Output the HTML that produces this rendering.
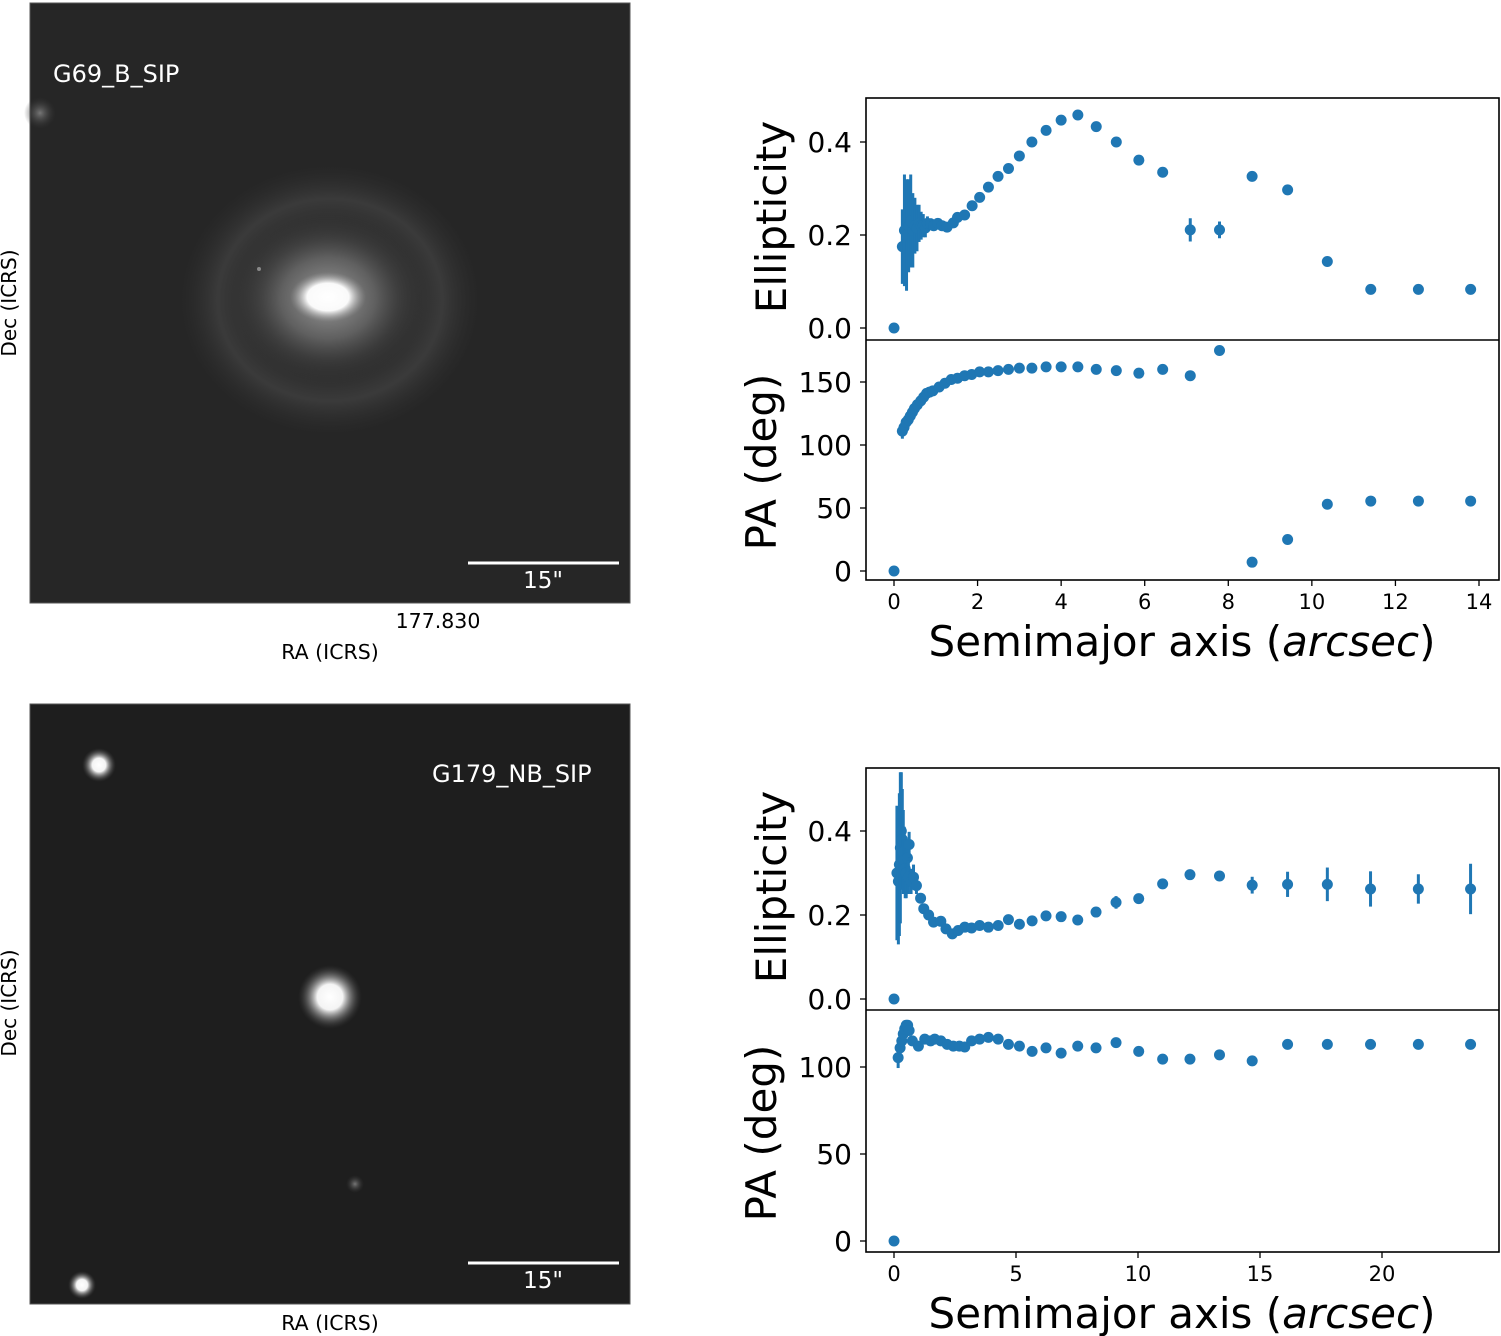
<!DOCTYPE html>
<html><head><meta charset="utf-8"><style>
html,body{margin:0;padding:0;background:#fff}
svg{display:block}
text{font-family:"DejaVu Sans","Liberation Sans",sans-serif}
</style></head><body>
<svg id="fig" width="1501" height="1336" viewBox="0 0 1501 1336" xmlns="http://www.w3.org/2000/svg">
<defs>
<radialGradient id="core1"><stop offset="0" stop-color="#fff"/><stop offset="0.55" stop-color="#fafafa"/><stop offset="1" stop-color="#999" stop-opacity="0"/></radialGradient>
<radialGradient id="halo1"><stop offset="0" stop-color="#a0a0a0"/><stop offset="0.45" stop-color="#6a6a6a" stop-opacity="0.85"/><stop offset="1" stop-color="#333" stop-opacity="0"/></radialGradient>
<radialGradient id="ring1"><stop offset="0.45" stop-color="#444" stop-opacity="0"/><stop offset="0.75" stop-color="#484848" stop-opacity="0.6"/><stop offset="1" stop-color="#333" stop-opacity="0"/></radialGradient>
<radialGradient id="star"><stop offset="0" stop-color="#fff"/><stop offset="0.4" stop-color="#f4f4f4"/><stop offset="1" stop-color="#444" stop-opacity="0"/></radialGradient>
<radialGradient id="faint"><stop offset="0" stop-color="#777"/><stop offset="1" stop-color="#333" stop-opacity="0"/></radialGradient>
</defs>

<g>
<rect x="30" y="3" width="600" height="600" fill="#262626"/>
<ellipse cx="330" cy="300" rx="150" ry="135" fill="url(#ring1)"/>
<ellipse cx="328" cy="298" rx="105" ry="90" fill="url(#halo1)"/>
<ellipse cx="328" cy="297" rx="38" ry="25" fill="url(#core1)"/>
<circle cx="40" cy="113" r="16" fill="url(#faint)"/>
<circle cx="259" cy="269" r="2" fill="#888"/>
<rect x="30" y="3" width="600" height="600" fill="none" stroke="#555" stroke-width="1"/>
<text x="53" y="82" fill="#fff" font-size="24">G69_B_SIP</text>
<line x1="468" y1="563" x2="619" y2="563" stroke="#fff" stroke-width="3"/>
<text x="543" y="588" fill="#fff" font-size="23" text-anchor="middle">15"</text>
<text x="438" y="628" font-size="20.5" text-anchor="middle">177.830</text>
<text x="330" y="659" font-size="20.5" text-anchor="middle">RA (ICRS)</text>
<text transform="translate(16,303) rotate(-90)" font-size="20" text-anchor="middle">Dec (ICRS)</text>
</g>

<g>
<rect x="30" y="704" width="600" height="600" fill="#1e1e1e"/>
<circle cx="330" cy="997" r="32" fill="url(#star)"/>
<circle cx="99" cy="765" r="17" fill="url(#star)"/>
<circle cx="82" cy="1285" r="14" fill="url(#star)"/>
<circle cx="355" cy="1184" r="9" fill="url(#faint)"/>
<rect x="30" y="704" width="600" height="600" fill="none" stroke="#555" stroke-width="1"/>
<text x="432" y="782" fill="#fff" font-size="24">G179_NB_SIP</text>
<line x1="468" y1="1263" x2="619" y2="1263" stroke="#fff" stroke-width="3"/>
<text x="543" y="1288" fill="#fff" font-size="23" text-anchor="middle">15"</text>
<text x="330" y="1330" font-size="20.5" text-anchor="middle">RA (ICRS)</text>
<text transform="translate(16,1003) rotate(-90)" font-size="20" text-anchor="middle">Dec (ICRS)</text>
</g>

<g id="plots"></g>
</svg>
<script>
// ---- top galaxy (G69) ----
const topEllX = [0,0.2,0.25,0.3,0.35,0.4,0.45,0.5,0.55,0.6,0.65,0.7,0.75,0.8,0.88,0.95,1.05,1.15,1.27,1.42,1.52,1.69,1.87,2.05,2.26,2.49,2.74,3.0,3.3,3.64,4.0,4.4,4.84,5.32,5.86,6.43,7.09,7.79,8.57,9.42,10.37,11.41,12.55,13.8];
const topEllY = [0,0.175,0.21,0.2,0.22,0.23,0.21,0.22,0.215,0.225,0.22,0.22,0.215,0.225,0.224,0.22,0.225,0.22,0.217,0.226,0.238,0.243,0.263,0.281,0.303,0.326,0.343,0.37,0.4,0.425,0.447,0.458,0.433,0.4,0.361,0.335,0.211,0.211,0.326,0.297,0.143,0.083,0.083,0.083];
const topEllErr = [0,0.08,0.12,0.12,0.1,0.1,0.08,0.06,0.05,0.04,0.03,0.025,0.02,0.015,0.012,0.01,0.008,0.006,0.005,0.005,0.004,0.004,0.004,0.004,0.005,0.005,0.007,0.01,0.01,0.01,0.005,0.004,0.004,0.004,0.004,0.004,0.025,0.018,0.004,0.01,0.004,0.003,0.003,0.003];
const topPaX = [0,0.2,0.24,0.29,0.34,0.39,0.44,0.49,0.56,0.64,0.71,0.78,0.85,0.93,1.08,1.22,1.37,1.52,1.69,1.86,2.05,2.26,2.49,2.74,3.0,3.3,3.64,4.0,4.4,4.84,5.32,5.86,6.43,7.09,7.79,8.57,9.42,10.37,11.41,12.55,13.8];
const topPaY = [0,111,114,118,120,123,126,129,132,135,138,141,142,143,146,149,152,153,155,156,158,158,159,160,161,161,162,162,162,160,159,157,160,155,175,7,25,53,55.5,55.5,55.5];
const topPaErr = [0,6,4,3,3,2,2,2,1,1,1,1,1,1,1,1,1,1,0,0,0,0,0,0,0,0,0,0,0,0,0,0,0,0,0,0,0,0,0,0,0];
const topXTicks = [0,2,4,6,8,10,12,14];
const topEllTicks = [0.0,0.2,0.4];
const topPaTicks = [0,50,100,150];

// ---- bottom galaxy (G179) ----
const botEllX = [0,0.12,0.18,0.22,0.26,0.3,0.34,0.38,0.42,0.46,0.5,0.55,0.59,0.62,0.7,0.8,0.92,1.09,1.22,1.42,1.62,1.92,2.13,2.39,2.63,2.9,3.18,3.51,3.87,4.27,4.69,5.14,5.66,6.23,6.85,7.53,8.28,9.1,10.03,11.01,12.13,13.34,14.68,16.13,17.76,19.53,21.49,23.63];
const botEllY = [0,0.3,0.28,0.32,0.36,0.4,0.38,0.35,0.33,0.31,0.3,0.336,0.29,0.368,0.28,0.29,0.27,0.24,0.215,0.2,0.183,0.185,0.167,0.155,0.163,0.171,0.169,0.175,0.171,0.175,0.189,0.178,0.186,0.198,0.196,0.188,0.207,0.23,0.239,0.274,0.296,0.293,0.271,0.273,0.273,0.262,0.262,0.262];
const botEllErr = [0,0.16,0.15,0.17,0.18,0.14,0.12,0.1,0.08,0.07,0.06,0.04,0.04,0.03,0.03,0.03,0.02,0.01,0.008,0.006,0.005,0.005,0.004,0.004,0.004,0.004,0.004,0.004,0.004,0.004,0.004,0.004,0.004,0.004,0.004,0.004,0.004,0.015,0.012,0.006,0.01,0.01,0.02,0.03,0.04,0.042,0.035,0.06];
const botPaX = [0,0.17,0.25,0.32,0.38,0.44,0.5,0.56,0.62,0.75,1.0,1.26,1.5,1.67,1.92,2.18,2.43,2.68,2.9,3.18,3.51,3.87,4.27,4.69,5.14,5.66,6.23,6.85,7.53,8.28,9.1,10.03,11.01,12.13,13.34,14.68,16.13,17.76,19.53,21.49,23.63];
const botPaY = [0,105.4,111,115,119,122,124,124,121,115,112,116,115,116,115,113,112,112,111.5,115,116,117,116,113,112,109,111,108,112,111,114,109,104.5,104.5,107,103.5,113,113,113,113,113];
const botPaErr = [0,6,4,3,3,2,2,1,1,1,1,1,1,1,1,1,1,1,1,1,1,1,1,1,1,1,1,1,1,1,1,1,1,1,1,1,1,1,1,1,1];
const botXTicks = [0,5,10,15,20];
const botEllTicks = [0.0,0.2,0.4];
const botPaTicks = [0,50,100];

const NS = 'http://www.w3.org/2000/svg';
const C = '#1f77b4';
const root = document.getElementById('plots');
function mk(tag, attrs, parent){
  const e = document.createElementNS(NS, tag);
  for (const k in attrs) e.setAttribute(k, attrs[k]);
  (parent||root).appendChild(e);
  return e;
}
function linScale(d0,d1,r0,r1){ return v => r0 + (v-d0)*(r1-r0)/(d1-d0); }
function fmt(v, dec){ return v.toFixed(dec); }

function drawPanel(cfg){
  const g = mk('g', {});
  
  
  const sx = linScale(0, cfg.xRef, 894, cfg.xRefPx);
  const se = linScale(0, 0.2, cfg.e0, cfg.e02);
  const sp = linScale(0, 50, cfg.p0, cfg.p50);
  function series(xs, ys, errs, sy, nm){
    const sg = mk('g', {}, g);
    
    
    for (let i=0;i<xs.length;i++){
      const x = sx(xs[i]);
      if (errs[i] > 0){
        const l = mk('line', {x1:x, x2:x, y1:sy(ys[i]-errs[i]), y2:sy(ys[i]+errs[i]), stroke:C, 'stroke-width':3}, sg);
        
        
      }
      const c = mk('circle', {cx:x, cy:sy(ys[i]), r:5.5, fill:C}, sg);
      
      
    }
  }
  series(cfg.ex, cfg.ey, cfg.ee, se, 'ellipticity-series');
  series(cfg.px, cfg.py, cfg.pe, sp, 'pa-series');
  mk('rect', {x:866, y:cfg.top, width:633, height:cfg.bottom-cfg.top, fill:'none', stroke:'#000', 'stroke-width':1.6}, g);
  mk('line', {x1:866, x2:1499, y1:cfg.mid, y2:cfg.mid, stroke:'#000', 'stroke-width':1.6}, g);
  cfg.xt.forEach(t => {
    const x = sx(t);
    mk('line', {x1:x, x2:x, y1:cfg.bottom, y2:cfg.bottom+6, stroke:'#000', 'stroke-width':1.3}, g);
    const tx = mk('text', {x:x, y:cfg.bottom+29, 'font-size':21, 'text-anchor':'middle'}, g);
    tx.textContent = t;
    
    
  });
  cfg.et.forEach(t => {
    const y = se(t);
    mk('line', {x1:860, x2:866, y1:y, y2:y, stroke:'#000', 'stroke-width':1.3}, g);
    const tx = mk('text', {x:852, y:y+10, 'font-size':28, 'text-anchor':'end'}, g);
    tx.textContent = fmt(t,1);
    
    
  });
  cfg.pt.forEach(t => {
    const y = sp(t);
    mk('line', {x1:860, x2:866, y1:y, y2:y, stroke:'#000', 'stroke-width':1.3}, g);
    const tx = mk('text', {x:852, y:y+10, 'font-size':28, 'text-anchor':'end'}, g);
    tx.textContent = t;
    
    
  });
  const et = mk('text', {transform:`translate(786,${(cfg.top+cfg.mid)/2-2}) rotate(-90)`, 'font-size':42, 'text-anchor':'middle'}, g);
  et.textContent = 'Ellipticity';
  
  
  const pt = mk('text', {transform:`translate(776,${(cfg.mid+cfg.bottom)/2+2}) rotate(-90)`, 'font-size':42, 'text-anchor':'middle'}, g);
  pt.textContent = 'PA (deg)';
  
  
  const xt = mk('text', {x:1182, y:cfg.bottom+76, 'font-size':42, 'text-anchor':'middle'}, g);
  xt.innerHTML = 'Semimajor axis (<tspan font-style="italic">arcsec</tspan>)';
  
  
}

drawPanel({name:'profile-plot-top', top:98, mid:340, bottom:580, xRef:14, xRefPx:1479,
  e0:328, e02:235, p0:571, p50:508,
  ex:topEllX, ey:topEllY, ee:topEllErr, px:topPaX, py:topPaY, pe:topPaErr,
  xt:topXTicks, et:topEllTicks, pt:topPaTicks});
drawPanel({name:'profile-plot-bottom', top:768, mid:1010, bottom:1252, xRef:20, xRefPx:1382,
  e0:999, e02:915, p0:1241, p50:1154,
  ex:botEllX, ey:botEllY, ee:botEllErr, px:botPaX, py:botPaY, pe:botPaErr,
  xt:botXTicks, et:botEllTicks, pt:botPaTicks});
</script>
</body></html>
